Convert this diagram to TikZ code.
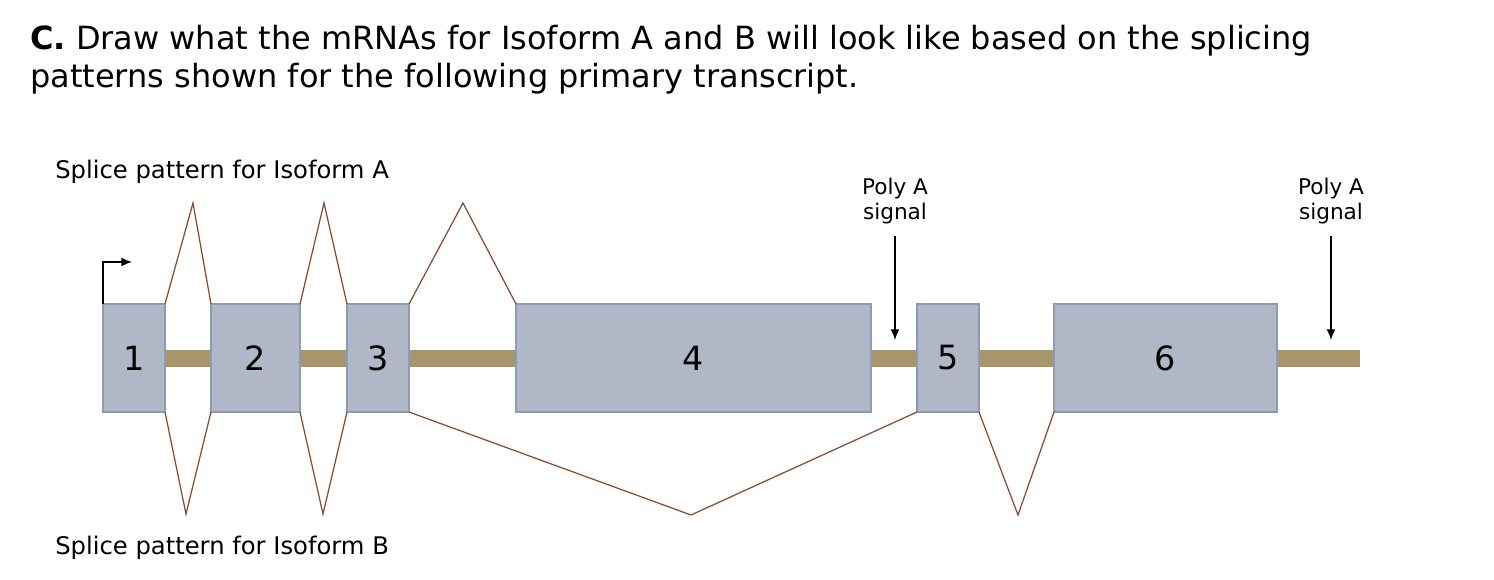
\documentclass[tikz,border=0pt]{standalone}
\usepackage{fontspec}
\usetikzlibrary{arrows.meta}
\setmainfont{DejaVu Sans}
\definecolor{boxf}{HTML}{B0B7C6}
\definecolor{boxd}{HTML}{8E99B3}
\definecolor{barc}{HTML}{A8966A}
\definecolor{spl}{HTML}{8B4A2B}
\begin{document}
\begin{tikzpicture}[x=0.02cm,y=-0.02cm,
 exon/.style={draw=boxd,fill=boxf,line width=0.8pt},
 sp/.style={draw=spl,line width=0.7pt},
 lbl/.style={font=\fontsize{13.8}{16}\selectfont,anchor=west},
 num/.style={font=\fontsize{19}{21}\selectfont},
 arr/.style={-{Latex[length=6pt,width=5pt]},line width=0.8pt}]
\useasboundingbox (0,0) rectangle (1494,580);
\node[anchor=west,font=\fontsize{18.2}{21.5}\selectfont,align=left,inner sep=0pt] (title) at (30,60) {\textbf{C.} Draw what the mRNAs for Isoform A and B will look like based on the splicing\\patterns shown for the following primary transcript.};
\fill[barc] (160,350) rectangle (1360,367);
\foreach \n/\a/\b in {1/103/165,2/211/300,3/347/409,4/516/871,5/917/979,6/1054/1277}{
 \draw[exon] (\a,304) rectangle (\b,412);
 \node[num] (e\n) at ({(\a+\b)/2},358) {\n};
 \coordinate (t\n l) at (\a,304); \coordinate (t\n r) at (\b,304);
 \coordinate (b\n l) at (\a,412); \coordinate (b\n r) at (\b,412);
}
\coordinate (pa1) at (193,203); \coordinate (pa2) at (324,203); \coordinate (pa3) at (463,203);
\coordinate (pb1) at (186,514); \coordinate (pb2) at (323,514); \coordinate (pb3) at (691,515); \coordinate (pb4) at (1018,515);
\draw[sp] (t1r)--(pa1)--(t2l); \draw[sp] (t2r)--(pa2)--(t3l); \draw[sp] (t3r)--(pa3)--(t4l);
\draw[sp] (b1r)--(pb1)--(b2l); \draw[sp] (b2r)--(pb2)--(b3l); \draw[sp] (b3r)--(pb3)--(b5l); \draw[sp] (b5r)--(pb4)--(b6l);
\coordinate (pr) at (132,262);
\draw[arr] (t1l)--(103,262)--(pr);
\node[lbl,inner sep=0pt] (la) at (55,172) {Splice pattern for Isoform A};
\node[lbl,inner sep=0pt] (lb) at (55,548) {Splice pattern for Isoform B};
\node[anchor=center,align=center,font=\fontsize{12.3}{14.5}\selectfont] (p1) at (895,201) {Poly A\\signal};
\node[anchor=center,align=center,font=\fontsize{12.3}{14.5}\selectfont] (p2) at (1331,201) {Poly A\\signal};
\coordinate (p1e) at (895,340); \coordinate (p2e) at (1331,340);
\draw[arr] (895,236)--(p1e);
\draw[arr] (1331,236)--(p2e);
\end{tikzpicture}
\end{document}
